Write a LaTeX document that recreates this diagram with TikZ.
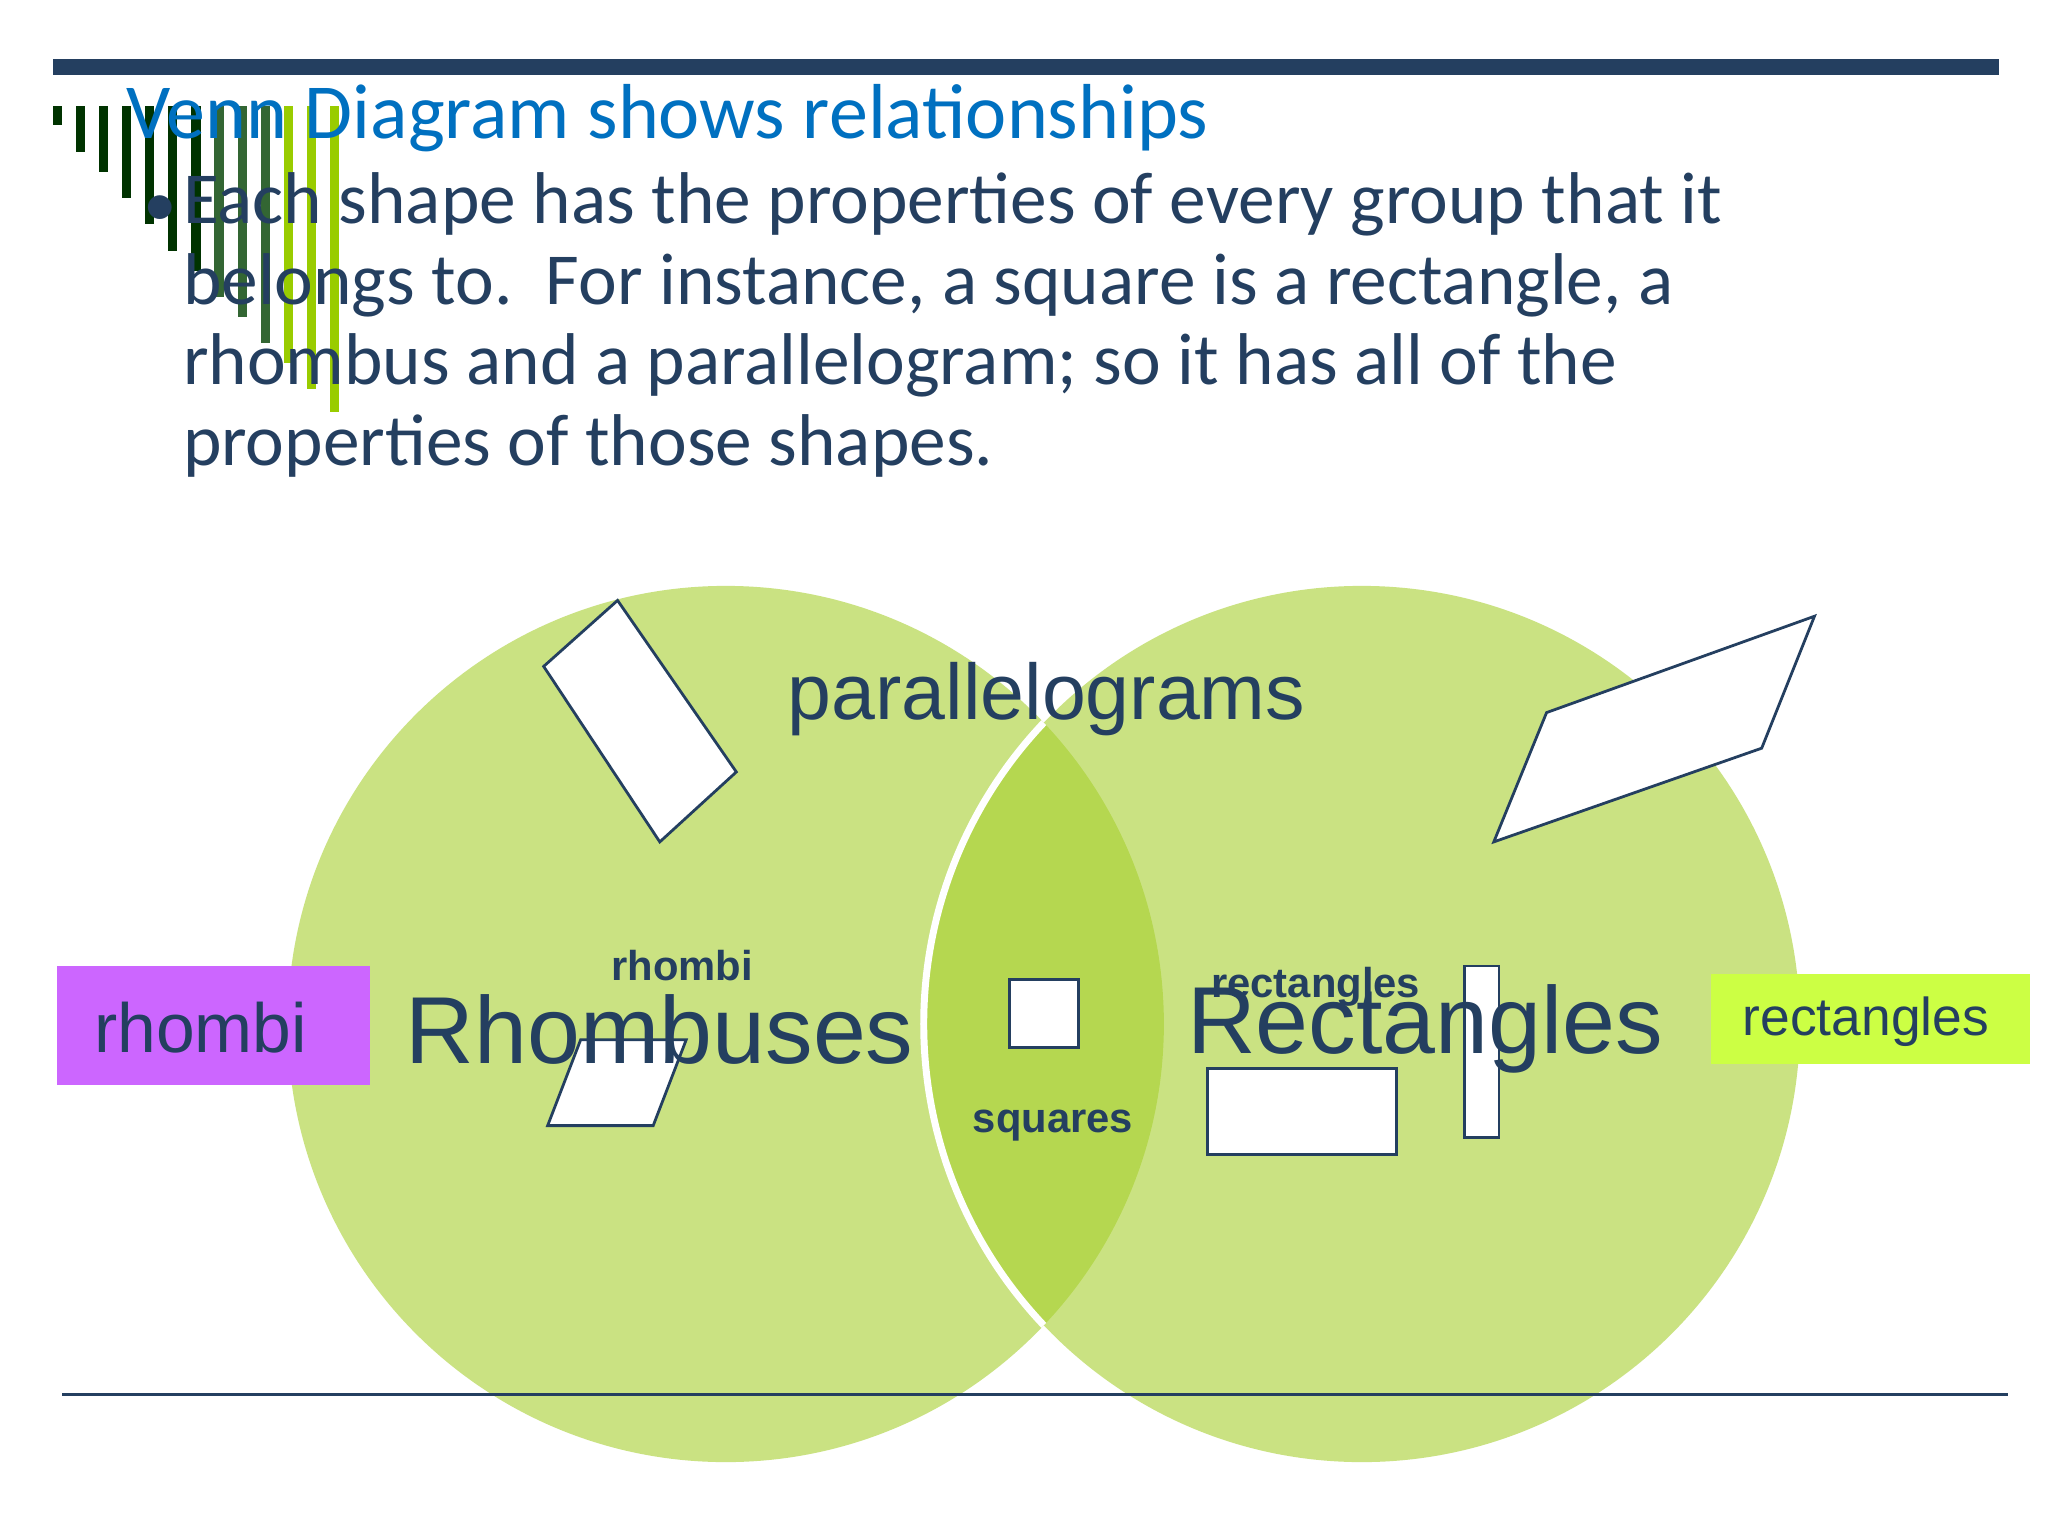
\documentclass[tikz,border=0pt]{standalone}
\usepackage{fontspec}
\setmainfont{Carlito}
\newfontfamily\arial{Liberation Sans}
\definecolor{navy}{HTML}{243F60}
\definecolor{ttl}{HTML}{0070C0}
\definecolor{dg}{HTML}{003300}
\definecolor{mg}{HTML}{336633}
\definecolor{lg}{HTML}{99CC00}
\definecolor{venn}{HTML}{A8D030}
\tikzset{shp/.style={draw=navy,fill=white,line width=0.6pt},
  lbl/.style={text=navy,font=\arial,inner sep=0pt},
  blbl/.style={text=navy,font=\arial\bfseries\fontsize{9}{10}\selectfont,inner sep=0pt}}
\begin{document}
\begin{tikzpicture}[x=0.01cm,y=-0.01cm]
\useasboundingbox[fill=white] (0,0) rectangle (1552,1164);
\fill[navy] (40,45) rectangle (1515,57);
\foreach \i/\b/\c in {0/95/dg,1/115/dg,2/130/dg,3/150/dg,4/170/dg,5/190/dg,6/205/dg,7/225/mg,8/240/mg,9/260/mg,10/275/lg,11/295/lg,12/312/lg}
  \fill[\c] ({40+17.5*\i},80) rectangle ({47+17.5*\i},\b);
\node[anchor=base west,text=ttl,font=\fontsize{16.8}{18}\selectfont,inner sep=0pt] (title) at (95,105) {Venn Diagram shows relationships};
\node[anchor=base west,text=navy,font=\fontsize{14.5}{17.4}\selectfont,inner sep=0pt] (b) at (108,172) {\textbullet};
\node[anchor=north west,text=navy,font=\fontsize{15.8}{17.4}\selectfont,inner sep=0pt,align=left] (body) at (138,130) {Each shape has the properties of every group that it\\ belongs to.\ \ For instance, a square is a rectangle, a\\ rhombus and a parallelogram; so it has all of the\\ properties of those shapes.};
\fill[venn,opacity=0.6] (550,776) circle (332);
\fill[venn,opacity=0.6] (1032,776) circle (332);
\begin{scope}
\clip (550,776) circle (332);
\draw[white,line width=1.5pt] (1032,776) circle (332);
\end{scope}
\draw[navy,line width=0.6pt] (47,1057) -- (1522,1057);
\draw[shp] (412,505) -- (468,455) -- (558,585) -- (500,638) -- cycle;
\draw[shp] (1132,638) -- (1172,540) -- (1375,467) -- (1335,567) -- cycle;
\draw[shp] (415,853) -- (440,788) -- (520,788) -- (495,853) -- cycle;
\draw[shp] (765,742) rectangle (817,794);
\draw[shp] (915,810) rectangle (1058,875);
\draw[shp] (1110,732) rectangle (1136,862);
\node[lbl,font=\arial\fontsize{17}{20}\selectfont] (par) at (793,530) {parallelograms};
\node[lbl,font=\arial\fontsize{20.5}{24}\selectfont] (rh) at (500,780) {Rhombuses};
\node[lbl,font=\arial\fontsize{20.5}{24}\selectfont] (re) at (1080,780) {Rectangles};
\node[blbl] (rhs) at (517,732) {rhombi};
\node[blbl] (res) at (997,748) {rectangles};
\node[blbl] (sq) at (798,853) {squares};
\node[fill={rgb,255:red,204;green,102;blue,255},minimum width=2.37cm,minimum height=0.9cm,inner sep=0pt] (mbox) at (161.5,777) {};
\node[lbl,font=\arial\fontsize{15}{18}\selectfont] (mt) at (152,779) {rhombi};
\node[fill={rgb,255:red,204;green,255;blue,68},minimum width=2.41cm,minimum height=0.68cm,inner sep=0pt] (ybox) at (1417.5,772) {};
\node[lbl,font=\arial\fontsize{11.5}{14}\selectfont] (yt) at (1414,774) {rectangles};
\end{tikzpicture}
\end{document}
